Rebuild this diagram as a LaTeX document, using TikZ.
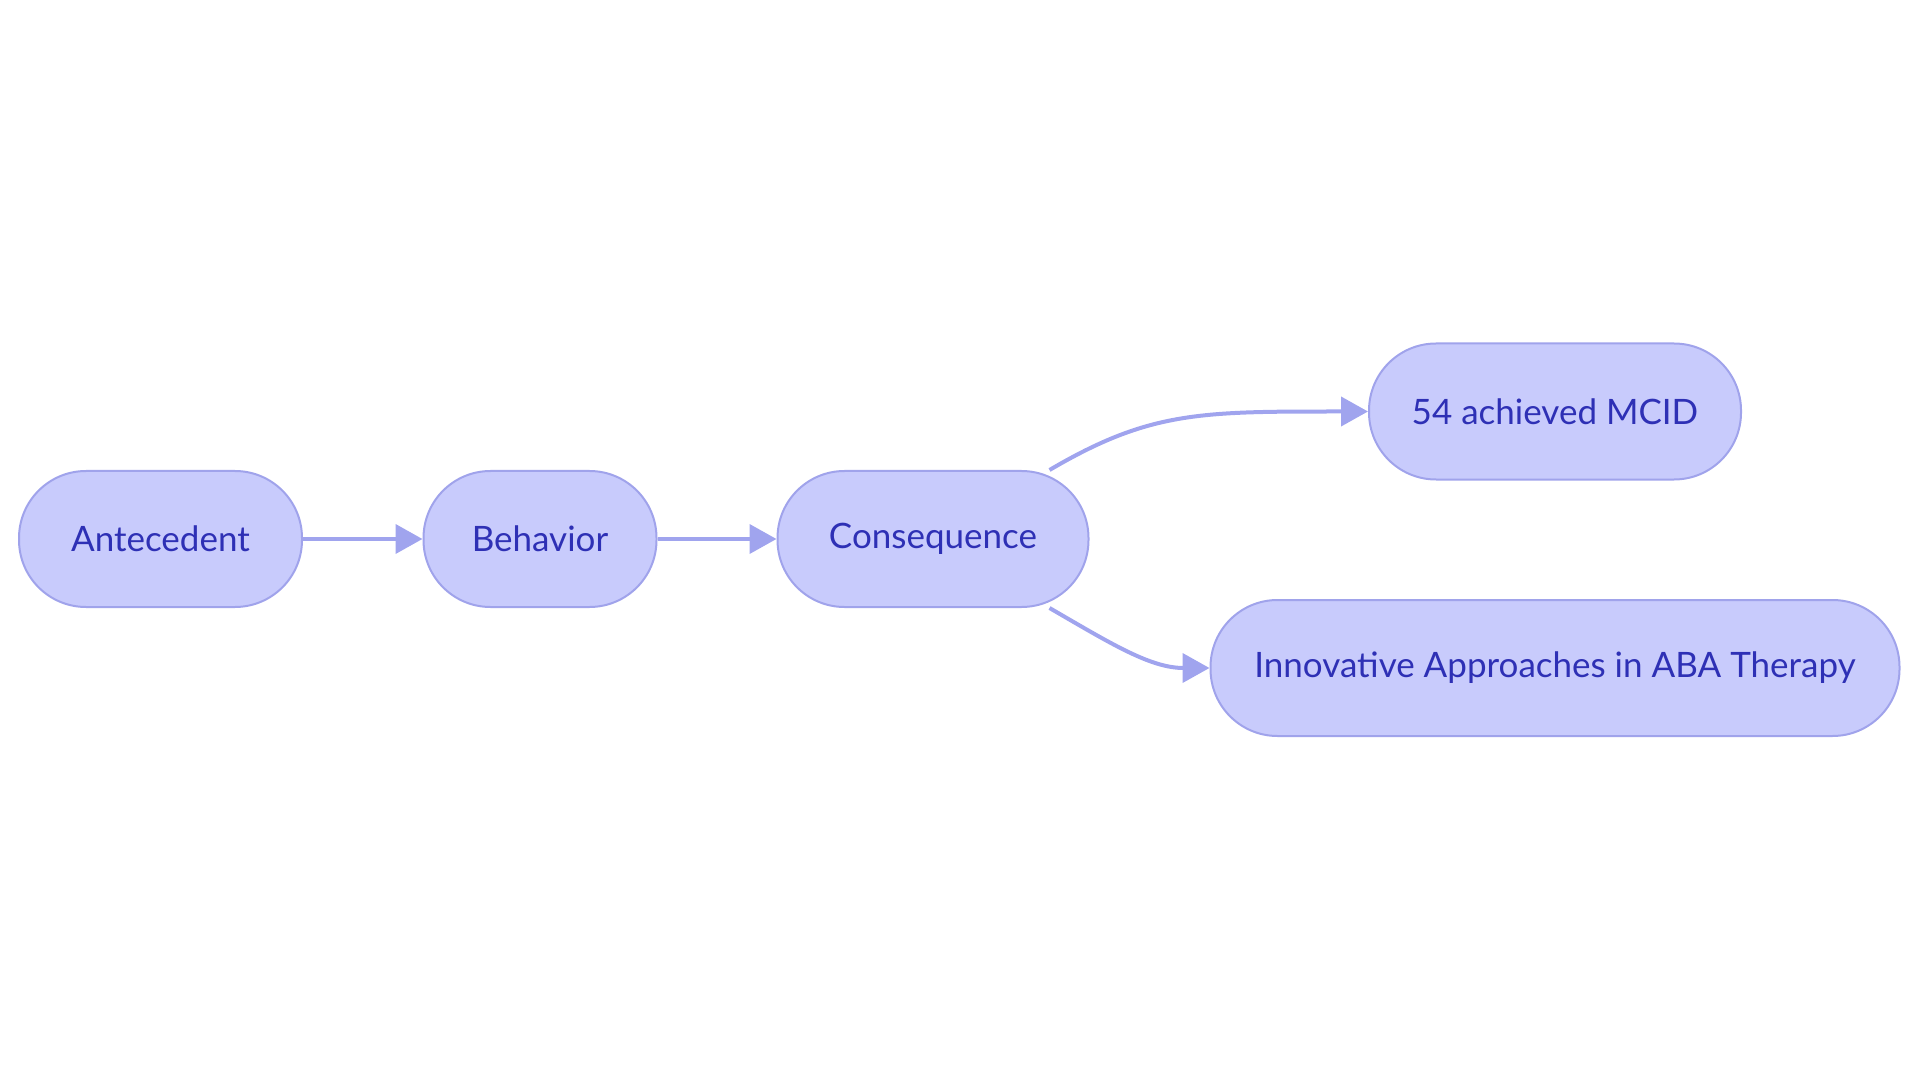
\documentclass[tikz,border=0pt]{standalone}
\usepackage{fontspec}
\setmainfont{Lato}
\usetikzlibrary{arrows.meta}
\definecolor{boxfill}{HTML}{C8CBFC}
\definecolor{boxline}{HTML}{A0A3EB}
\definecolor{boxtext}{HTML}{2E30B5}
\definecolor{flowline}{HTML}{A0A4EE}
\begin{document}
\begin{tikzpicture}
		[x=0.5pt,y=0.5pt,
		stage/.style={rectangle,rounded corners=33.5pt,draw=boxline,fill=boxfill,line width=1pt,
inner sep=0pt,minimum height=68pt,text=boxtext,font=\fontsize{17.5}{21}\selectfont},
		flow/.style={-{Triangle[length=13.5pt,width=14.5pt]},draw=flowline,line width=2pt}]
		\useasboundingbox (0,0) rectangle (1920,1083);
		\node at (160.5, 544) (ante) [stage,minimum width=141.5pt] {Antecedent};
		\node at (540, 544) (behav) [stage,minimum width=116.5pt] {Behavior};
		\node at (933, 544) (conseq) [stage,minimum width=155.5pt] {Consequence};
		\node at (1555, 671.5) (mcid) [stage,minimum width=186pt] {54 achieved MCID};
		\node at (1555, 415) (innov) [stage,minimum width=344.5pt] {Innovative Approaches in ABA Therapy};
		\draw [flow] (ante) -- (behav);
		\draw [flow] (behav) -- (conseq);
		\draw [flow] ([xshift=-20pt]conseq.north east) .. controls (1150, 672) and (1200, 671.5) .. (mcid.west);
		\draw [flow] ([xshift=-20pt]conseq.south east) .. controls (1110, 440) and (1150, 415) .. (innov.west);
	\end{tikzpicture}
\end{document}
